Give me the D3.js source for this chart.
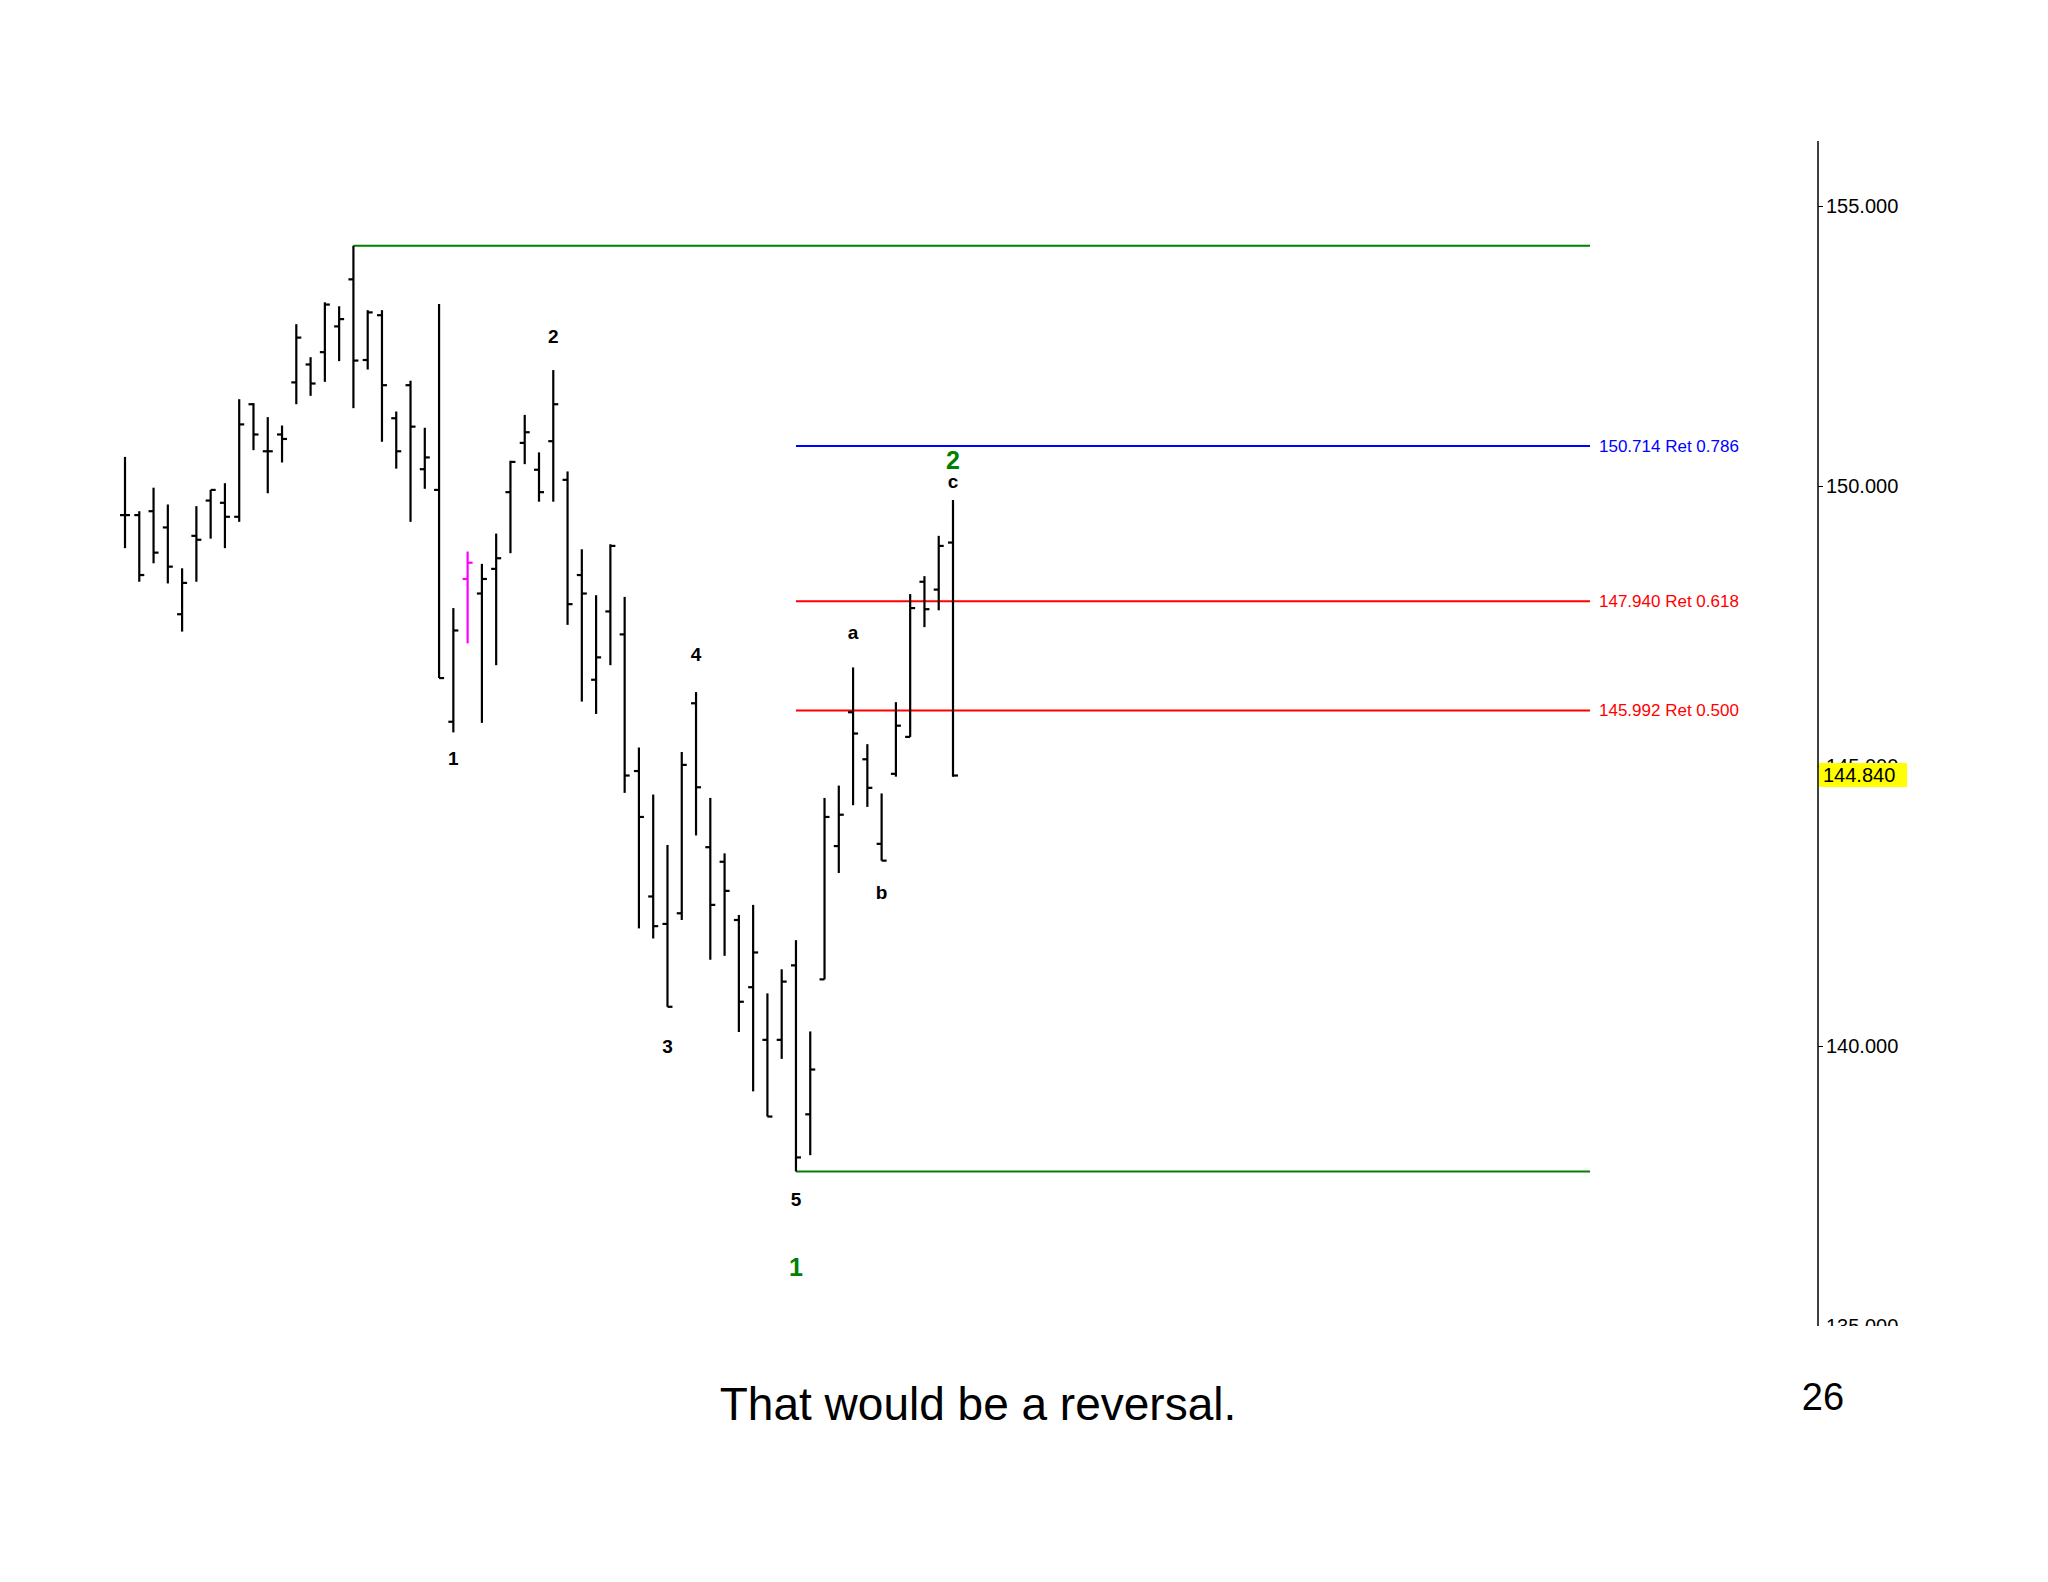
<!DOCTYPE html>
<html>
<head>
<meta charset="utf-8">
<script src="https://cdn.jsdelivr.net/npm/d3@7"></script>
<style>
  body { margin: 0; background: #fff; }
  text { font-family: "Liberation Sans", Arial, sans-serif; }
</style>
</head>
<body>
<script>
// bar data (open, high, low, close)
const opens  = [149.48,149.48,149.55,149.26,147.71,149.11,149.74,149.70,149.45,151.46,150.62,150.92,151.85,152.17,152.39,152.85,153.69,152.25,153.05,151.21,151.80,150.30,
                149.93,145.79,148.34,148.08,148.52,149.89,150.77,150.29,150.80,150.11,148.41,146.54,147.76,147.35,144.91,142.67,142.18,142.37,146.12,143.55,143.29,142.25,141.05,140.11,140.11,141.44,138.78,141.19,
                143.57,145.96,145.12,143.61,144.86,145.52,148.29,148.15,148.99];
const highs  = [150.52,149.55,149.97,149.67,148.53,149.64,149.93,150.05,151.55,151.48,151.23,151.08,152.89,152.30,153.28,153.21,154.29,153.14,153.14,151.33,151.88,151.04,
                153.25,147.82,148.83,148.61,149.15,150.45,151.27,150.60,152.07,150.26,148.87,148.05,148.96,148.02,145.33,144.49,143.59,145.25,146.32,144.43,143.44,142.34,142.52,140.94,141.37,141.89,140.26,144.43,
                144.65,146.76,145.39,144.51,146.14,148.07,148.39,149.11,149.75];
const lows   = [148.89,148.29,148.62,148.26,147.40,148.29,149.06,148.89,149.36,150.64,149.87,150.42,151.46,151.61,151.86,152.23,151.39,152.08,150.79,150.31,149.36,149.95,
                146.57,145.60,147.19,145.77,146.80,148.80,150.39,149.72,149.72,147.52,146.15,145.93,146.80,144.52,142.10,141.92,140.70,142.25,143.76,141.54,141.61,140.25,139.19,138.74,139.77,137.76,138.05,141.19,
                143.09,144.30,144.27,143.31,144.81,145.52,147.48,147.78,144.81];
const closes = [149.48,148.41,148.81,148.56,148.27,149.04,149.93,149.45,151.10,150.92,150.62,150.84,152.65,151.83,153.24,152.98,152.24,153.10,151.80,150.62,151.06,150.51,
                146.57,147.42,148.63,148.34,148.71,150.43,150.96,149.89,151.46,147.89,148.08,146.94,148.93,144.83,144.09,142.14,140.70,145.02,144.62,142.52,142.77,140.79,141.67,138.74,141.15,138.01,139.58,144.09,
                144.13,145.58,144.61,143.31,145.72,147.82,147.80,148.93,144.83];
const highlightBar = 24;

const yTicks = [135, 140, 145, 150, 155];
const lastPrice = 144.84;

// swing lines: value, from bar, colour, label
const levelValues = [154.29, 137.76, 150.714, 147.940, 145.992];
const levelFrom   = [16, 47, 47, 47, 47];
const levelColors = ["#008000", "#008000", "#0000ff", "#ff0000", "#ff0000"];
const levelLabels = ["", "", "150.714 Ret 0.786", "147.940 Ret 0.618", "145.992 Ret 0.500"];

// wave labels: bar index, price position, text, big green or not
const waveBars   = [23, 30, 38, 40, 47, 47, 58, 51, 58, 53];
const wavePrices = [145.02, 152.56, 139.88, 146.88, 137.14, 135.89, 150.3, 147.27, 149.97, 142.63];
const waveTexts  = ["1", "2", "3", "4", "5", "1", "2", "a", "c", "b"];
const waveBig    = [false, false, false, false, false, true, true, false, false, false];

const W = 2048, H = 1582;
const svg = d3.select("body").append("svg").attr("width", W).attr("height", H);

const idx = d3.range(opens.length);
const x = d3.scalePoint().domain(idx).range([125, 953]);
const y = d3.scaleLinear().domain([135, 155]).range([1326, 206]);
const lineEnd = 1590;

// level lines
levelValues.forEach((v, i) => {
  svg.append("line")
    .attr("x1", x(levelFrom[i])).attr("x2", lineEnd)
    .attr("y1", y(v)).attr("y2", y(v))
    .attr("stroke", levelColors[i]).attr("stroke-width", 2);
  if (levelLabels[i]) {
    svg.append("text").attr("x", 1599).attr("y", y(v) + 6)
      .attr("fill", levelColors[i]).attr("font-size", 17)
      .attr("font-family", "DejaVu Sans Condensed, sans-serif")
      .text(levelLabels[i]);
  }
});

// bars
const bars = svg.append("g").selectAll("g").data(idx).enter().append("g")
  .attr("stroke", d => d === highlightBar ? "#ff00ff" : "#000")
  .attr("stroke-width", 2.2);
bars.append("line")
  .attr("x1", d => x(d)).attr("x2", d => x(d))
  .attr("y1", d => y(highs[d])).attr("y2", d => y(lows[d]));
bars.append("line")
  .attr("x1", d => x(d) - 5).attr("x2", d => x(d))
  .attr("y1", d => y(opens[d])).attr("y2", d => y(opens[d]));
bars.append("line")
  .attr("x1", d => x(d)).attr("x2", d => x(d) + 5)
  .attr("y1", d => y(closes[d])).attr("y2", d => y(closes[d]));

// wave labels
waveTexts.forEach((t, i) => {
  svg.append("text")
    .attr("x", x(waveBars[i])).attr("y", y(wavePrices[i]))
    .attr("text-anchor", "middle")
    .attr("font-family", "DejaVu Serif, serif").attr("font-weight", "bold")
    .attr("font-size", waveBig[i] ? 25 : 19)
    .attr("fill", waveBig[i] ? "#008000" : "#000")
    .text(t);
});

// price axis on the right, clipped at the bottom like the original
svg.append("clipPath").attr("id", "ax").append("rect")
  .attr("x", -10).attr("y", 130).attr("width", 200).attr("height", 1196);
const axisG = svg.append("g").attr("transform", "translate(1818,0)").attr("clip-path", "url(#ax)");
axisG.call(d3.axisRight(y).tickValues(yTicks).tickSize(5).tickPadding(3).tickFormat(d3.format(".3f")));
axisG.select(".domain").remove();
axisG.selectAll("text").attr("font-size", 20).attr("fill", "#000")
  .attr("font-family", "DejaVu Sans Condensed, sans-serif");
svg.append("line").attr("x1", 1818).attr("x2", 1818).attr("y1", 141).attr("y2", 1326)
  .attr("stroke", "#000").attr("stroke-width", 1.5);

// last price tag
svg.append("rect").attr("x", 1819).attr("y", y(lastPrice) - 12).attr("width", 88).attr("height", 24).attr("fill", "#ffff00");
svg.append("text").attr("x", 1823).attr("y", y(lastPrice) + 7).attr("font-size", 20)
  .attr("font-family", "DejaVu Sans Condensed, sans-serif").text(lastPrice.toFixed(3));

// caption and page number
svg.append("text").attr("x", 978).attr("y", 1420).attr("text-anchor", "middle")
  .attr("font-size", 46).text("That would be a reversal.");
svg.append("text").attr("x", 1823).attr("y", 1410).attr("text-anchor", "middle")
  .attr("font-size", 38).text("26");
</script>
</body>
</html>
